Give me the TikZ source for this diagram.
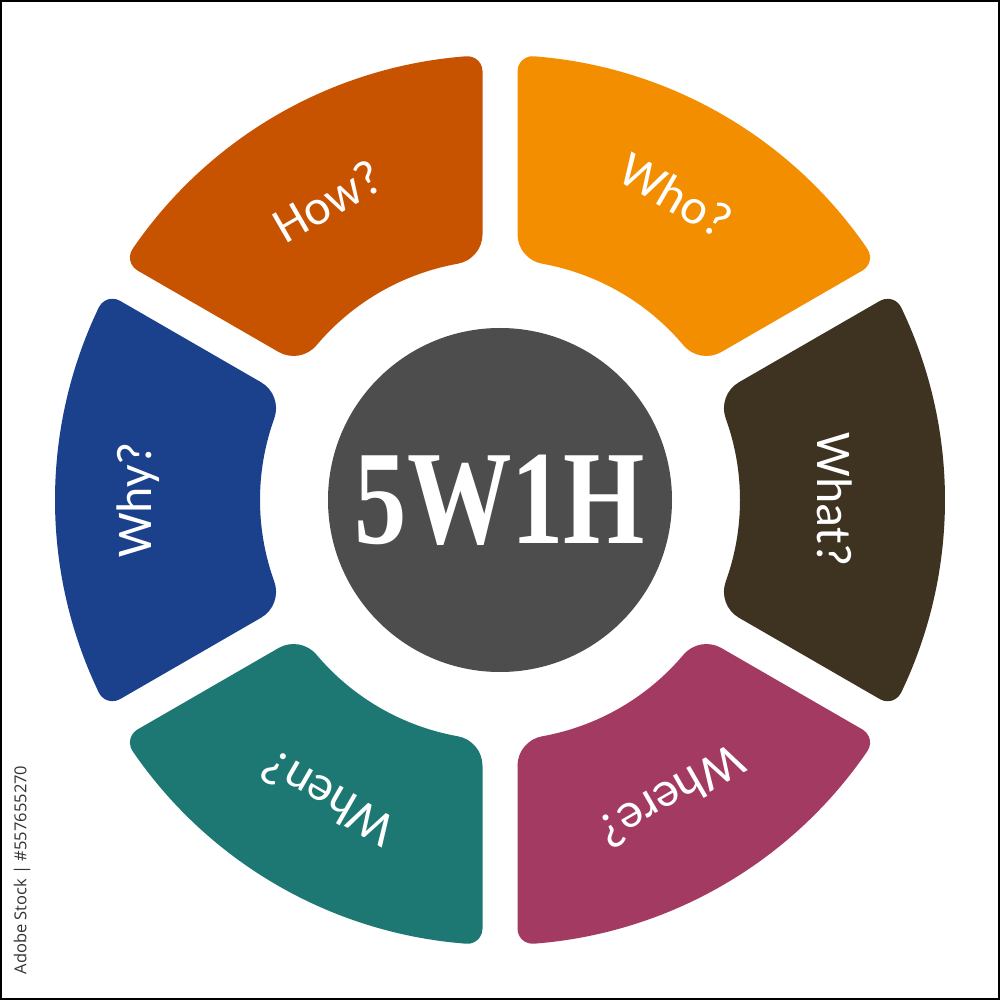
\documentclass[tikz,border=0pt]{standalone}
\usepackage{fontspec}
\usepackage{graphicx}
\newfontfamily\labfont{Carlito}
\newfontfamily\titlefont{Liberation Serif}
\newfontfamily\wmfont{Open Sans}
\definecolor{cHow}{HTML}{C75200}
\definecolor{cWho}{HTML}{F28E00}
\definecolor{cWhat}{HTML}{3E3221}
\definecolor{cWhere}{HTML}{A33A61}
\definecolor{cWhen}{HTML}{1D7873}
\definecolor{cWhy}{HTML}{1B418D}
\definecolor{cCenter}{HTML}{4D4D4D}
\begin{document}
\begin{tikzpicture}[x=1pt,y=1pt,
  lab/.style={text=white, inner sep=0pt, font=\labfont\fontsize{50}{50}\selectfont},
  hub/.style={circle, fill=cCenter, minimum size=344pt, inner sep=0pt}]
\useasboundingbox (-500,-500) rectangle (500,500);
\fill[white] (-500,-500) rectangle (500,500);
\draw[line width=2pt] (-499,-499) rectangle (499,499);
\foreach \a/\col/\txt/\rr/\nm in {90/cHow/How?/345/how, 30/cWho/Who?/352/who, -30/cWhat/What?/335/what, -90/cWhere/Where?/343/where, 210/cWhen/When?/345/when, 150/cWhy/Why?/362/why}{
  \pgfmathsetmacro\bb{\a+60}
  \fill[\col] ([shift={(\a+90:17.5)}]\a:265.79)
    -- ([shift={(\a+90:17.5)}]\a:428.77)
    arc[start angle=\a-90, end angle=\a+4.334, radius=15]
    arc[start angle=\a+4.334, end angle=\bb-4.334, radius=445]
    arc[start angle=\bb-4.334, end angle=\bb+90, radius=15]
    -- ([shift={(\bb-90:17.5)}]\bb:265.79)
    arc[start angle=\bb+90, end angle=\bb+169.87, radius=30]
    arc[start angle=\bb-10.13, end angle=\a+10.13, radius=240]
    arc[start angle=\a+190.13, end angle=\a+270, radius=30]
    -- cycle;
  \node[lab, rotate=\a-60] (\nm) at (\a+30:\rr) {\txt};
}
\node[hub] (center) at (0,0) {};
\node[text=white, inner sep=0pt] (title) at (0,0) {\titlefont\bfseries\fontsize{134}{134}\selectfont\scalebox{0.78}[1]{5W1H}};
\node[rotate=90, text=black!80, inner sep=0pt, font=\wmfont\fontsize{16.5}{16.5}\selectfont] (wm) at (-478,-370) {Adobe Stock | \#557655270};
\end{tikzpicture}
\end{document}
